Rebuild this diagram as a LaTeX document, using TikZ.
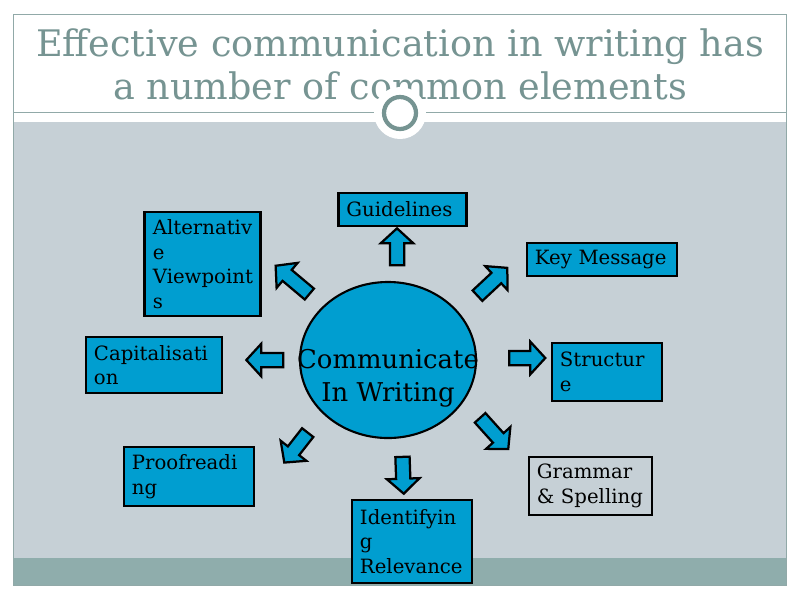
\documentclass[tikz,border=0pt]{standalone}
\usepackage{fontspec}
\setmainfont{DejaVu Serif}
\usetikzlibrary{shapes.arrows,shapes.geometric}
\definecolor{bandgray}{RGB}{198,208,214}
\definecolor{bandteal}{RGB}{143,173,172}
\definecolor{titlegray}{RGB}{118,148,146}
\definecolor{boxblue}{RGB}{0,158,208}

\begin{document}
\begin{tikzpicture}[
    x=0.025cm, y=-0.025cm,
    elem/.style={draw, line width=2pt, fill=boxblue, align=left, inner xsep=0.2cm, inner ysep=0.1cm, font=\fontsize{14}{17.5}\selectfont},
    plainelem/.style={elem, fill=none, line width=0.9pt},
    blockarrow/.style={single arrow, draw, line width=1.6pt, fill=boxblue, inner xsep=0pt, inner ysep=0.15cm, single arrow head extend=0.23cm, single arrow tip angle=95, single arrow head indent=0pt},
]
\useasboundingbox (0,0) rectangle (800,600);
\fill[white] (0,0) rectangle (800,600);
\fill[bandgray] (13,122) rectangle (786,558);
\fill[bandteal] (13,558) rectangle (786,585);
\draw[titlegray!80, line width=0.6pt] (13,14) rectangle (786,585);
\draw[titlegray!80, line width=0.6pt] (13,112) -- (786,112);

\node[font=\fontsize{26}{30.5}\selectfont, text=titlegray, align=center] (title) at (400,64) {Effective communication in writing has\\a number of common elements};

\fill[white] (400,113) circle (26);
\draw[titlegray, line width=3pt, fill=white] (400,113) circle (16);

\node[draw, line width=1.5pt, fill=boxblue, ellipse, minimum width=4.4cm, minimum height=3.9cm, inner sep=0pt] (hub) at (388,360) {};
\node[font=\fontsize{18.4}{23.4}\selectfont, align=center] (hubtext) at (388,378) {Communicate\\In Writing};

\node[elem, text width=2.8cm, minimum height=0.825cm] (guide) at (402.5,209.5) {Guidelines};
\node[elem, text width=3.35cm, minimum height=0.825cm] (keymsg) at (602,259.5) {Key Message};
\node[elem, text width=2.48cm, minimum height=2.6cm] (altview) at (202.5,264) {Alternativ\\e\\Viewpoint\\s};
\node[elem, text width=3.0cm, minimum height=1.4cm] (capital) at (154,365) {Capitalisati\\on};
\node[elem, text width=2.35cm, minimum height=1.45cm] (struct) at (607,372) {Structur\\e};
\node[elem, text width=2.85cm, minimum height=1.475cm] (proof) at (189,476.5) {Proofreadi\\ng};
\node[elem, text width=2.6cm, minimum height=2.075cm] (ident) at (412,541.5) {Identifyin\\g\\Relevance};
\node[plainelem, text width=2.68cm, minimum height=1.45cm] (grammar) at (590.5,486) {Grammar\\\& Spelling};

\node[blockarrow, minimum height=0.92cm, rotate=90] (toguide) at (397,250) {};
\node[blockarrow, minimum height=1.02cm, rotate=43] (tokeymsg) at (490,284) {};
\node[blockarrow, minimum height=1.1cm, rotate=140] (toaltview) at (295,282) {};
\node[blockarrow, minimum height=0.92cm, rotate=180] (tocapital) at (268,360) {};
\node[blockarrow, minimum height=0.9cm] (tostruct) at (524,358) {};
\node[blockarrow, minimum height=1.05cm, rotate=-48] (togrammar) at (492,431) {};
\node[blockarrow, minimum height=0.95cm, rotate=-128] (toproof) at (298,445) {};
\node[blockarrow, minimum height=0.92cm, rotate=-88] (toident) at (403,472) {};
\end{tikzpicture}
\end{document}
